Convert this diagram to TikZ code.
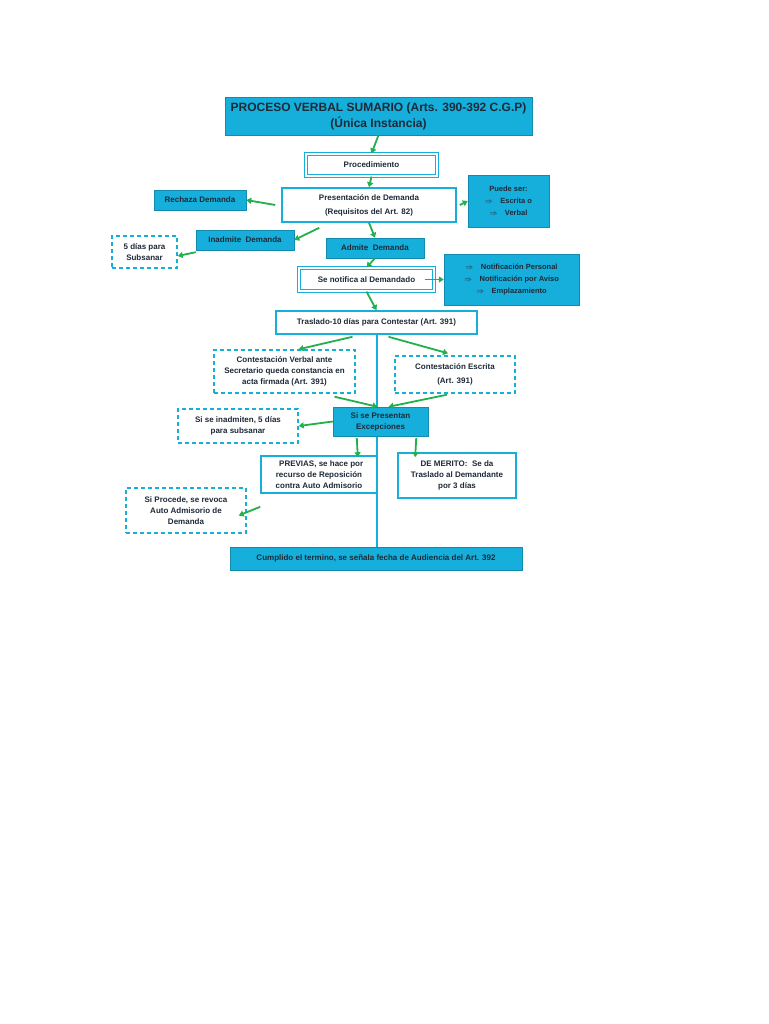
\documentclass[tikz,border=0pt]{standalone}
\usepackage{fontspec}
\setmainfont{Liberation Sans}
\usetikzlibrary{arrows.meta,calc}
\definecolor{cy}{HTML}{16AEDB}
\definecolor{gr}{HTML}{22B04B}
\definecolor{tx}{HTML}{1E2A38}
\begin{document}
\begin{tikzpicture}[x=1pt,y=-1pt,
  base/.style={inner sep=1pt,align=center,text=tx,font=\bfseries\fontsize{8}{11}\selectfont},
  fillbox/.style={base,fill=cy,draw=cy!80!black,line width=0.4pt},
  whitebox/.style={base,fill=white,draw=cy,line width=1.6pt},
  dblbox/.style={base,fill=white,draw=cy,double=white,double distance=1.2pt,line width=1.2pt},
  dashbox/.style={base,fill=white,draw=cy,dashed,dash pattern=on 4pt off 3pt,line width=1.4pt},
  arr/.style={draw=gr,line width=1.8pt,-{Triangle[length=5pt,width=6pt]}}]
\useasboundingbox (0,0) rectangle (768,1024);
\fill[white] (0,0) rectangle (768,1024);
\newcommand\bx[7]{\node[#1,minimum width=#4-#2,minimum height=#5-#3] (#6) at ({(#2+#4)/2},{(#3+#5)/2}) {#7};}
% vertical line
\coordinate (vt) at (377,334);
\coordinate (vb) at (377,547);
\draw[cy,line width=1.4pt] (vt) -- (vb);
\bx{fillbox,font=\bfseries\fontsize{12}{16}\selectfont}{225}{97}{532}{135}{title}{PROCESO VERBAL SUMARIO (Arts. 390-392 C.G.P)\\(Única Instancia)}
\bx{dblbox}{306}{154}{437}{176}{proc}{Procedimiento}
\bx{whitebox}{282}{188}{456}{222}{pres}{Presentación de Demanda\\[3pt](Requisitos del Art. 82)}
\bx{fillbox}{154}{190}{246}{210}{rech}{Rechaza Demanda}
\bx{fillbox,font=\bfseries\fontsize{7.5}{10}\selectfont}{468}{175}{549}{227}{puede}{Puede ser:\\[2pt]$\Rightarrow$\quad Escrita o\\[2pt]$\Rightarrow$\quad Verbal}
\bx{fillbox}{196}{230}{294}{250}{inad}{Inadmite\ \ Demanda}
\bx{dashbox}{112}{236}{177}{268}{cinco}{5 días para\\Subsanar}
\bx{fillbox}{326}{238}{424}{258}{adm}{Admite\ \ Demanda}
\bx{dblbox}{299}{268}{434}{291}{notif}{Se notifica al Demandado}
\bx{fillbox,font=\bfseries\fontsize{7.5}{10}\selectfont}{444}{254}{579}{305}{tipos}{$\Rightarrow$\quad Notificación Personal\\[2pt]$\Rightarrow$\quad Notificación por Aviso\\[2pt]$\Rightarrow$\quad Emplazamiento}
\bx{whitebox}{276}{311}{477}{334}{trasl}{Traslado-10 días para Contestar (Art. 391)}
\bx{dashbox}{214}{350}{355}{393}{verb}{Contestación Verbal ante\\Secretario queda constancia en\\acta firmada (Art. 391)}
\bx{dashbox}{395}{356}{515}{393}{escr}{Contestación Escrita\\[3pt](Art. 391)}
\bx{fillbox}{333}{407}{428}{436}{exc}{Si se Presentan\\Excepciones}
\bx{dashbox}{178}{409}{298}{443}{inadm}{Si se inadmiten, 5 días\\para subsanar}
\bx{whitebox}{261}{456}{377}{493}{prev}{\ \ PREVIAS, se hace por\\recurso de Reposición\\contra Auto Admisorio}
\bx{whitebox}{398}{453}{516}{498}{mer}{DE MERITO:\ \ Se da\\Traslado al Demandante\\por 3 días}
\bx{dashbox}{126}{488}{246}{533}{proc2}{Si Procede, se revoca\\Auto Admisorio de\\Demanda}
\bx{fillbox}{230}{547}{522}{570}{cump}{Cumplido el termino, se señala fecha de Audiencia del Art. 392}
% arrows
\draw[arr] (title.south) -- (proc.north);
\draw[arr] (proc.south) -- (pres.north);
\draw[arr] ($(pres.west)+(-6,0)$) -- (rech.east);
\draw[arr] ($(pres.east)+(3,0)$) -- (puede.west);
\draw[arr] ($(pres.south west)+(38,5)$) -- (inad.east);
\draw[arr] ($(inad.south west)+(0,2)$) -- ($(cinco.east)+(0,4)$);
\draw[arr] (pres.south) -- (adm.north);
\draw[arr] (adm.south) -- (notif.north);
\draw[arr] ($(notif.east)+(-10,0)$) -- (tipos.west);
\draw[arr] (notif.south) -- (trasl.north);
\draw[arr] ($(trasl.south)+(-24,2)$) -- ($(verb.north)+(14,0)$);
\draw[arr] ($(trasl.south)+(12,2)$) -- ($(escr.north)+(-7,-2)$);
\draw[arr] ($(verb.south)+(50,3)$) -- ($(exc.north)+(-3,0)$);
\draw[arr] ($(escr.south)+(-8,1)$) -- ($(exc.north)+(8,0)$);
\draw[arr] (exc.west) -- (inadm.east);
\draw[arr] ($(exc.south west)+(24,2)$) -- ($(prev.north east)+(-20,2)$);
\draw[arr] ($(exc.south east)+(-12,2)$) -- ($(mer.north west)+(18,5)$);
\draw[arr] ($(prev.south west)+(0,13)$) -- ($(proc2.east)+(-8,5)$);
\end{tikzpicture}
\end{document}
